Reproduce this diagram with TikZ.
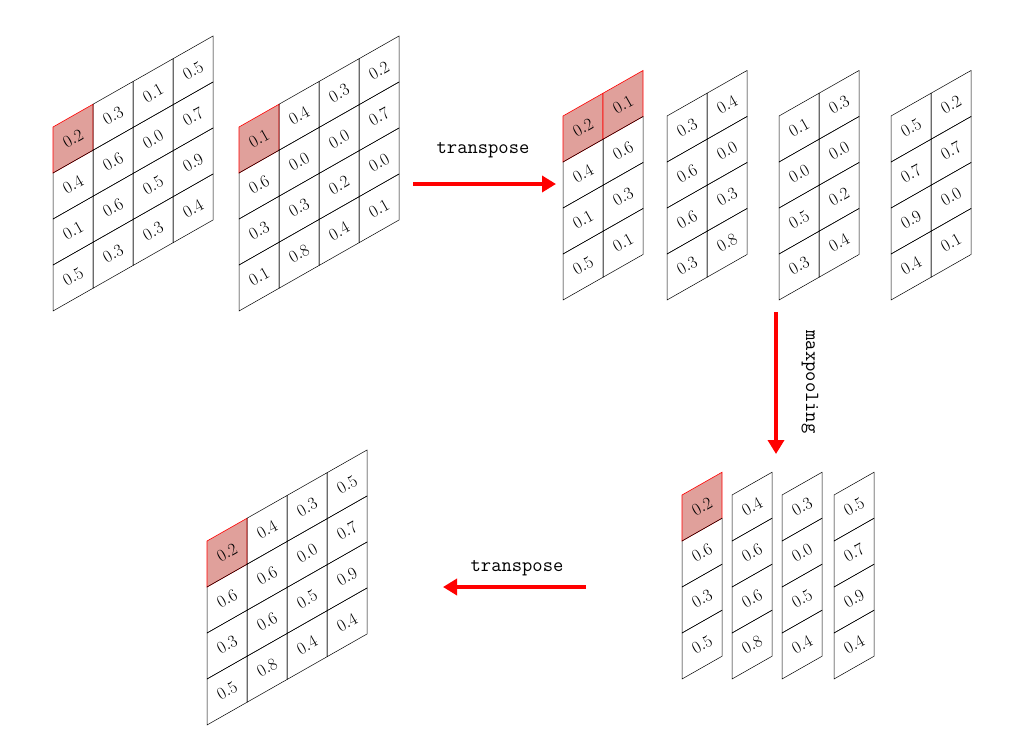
\documentclass[tikz,border=0pt]{standalone}
\usetikzlibrary{arrows.meta}
\definecolor{hifill}{HTML}{E0A09B}
\tikzset{
  cellbox/.style={draw=black, line width=0.5pt},
  hicell/.style={draw=red, fill=hifill, line width=0.6pt},
  celltext/.style={font=\fontsize{16}{16}\selectfont, rotate=29.6, inner sep=0pt},
  bigarrow/.style={draw=red, line width=4pt, -{Triangle[length=14pt,width=16pt]}},
  lbl/.style={font=\fontsize{20}{20}\selectfont\ttfamily}
}
% #1 x0, #2 ytop(left column), #3 rows, #4 list of highlighted "r-c"
\newcommand{\mygrid}[4]{%
  \foreach \row [count=\r from 0] in {#3} {
    \foreach \v [count=\c from 0] in \row {
      \pgfmathsetmacro{\xa}{#1+40*\c}
      \pgfmathsetmacro{\ya}{-(#2+46*\r-22.75*\c)}
      \foreach \h in {#4} {\ifx\h\empty\else
        \edef\tmp{\r-\c}\ifx\tmp\h\global\def\hisel{1}\fi\fi}
      \ifdefined\hisel
        \fill[hicell] (\xa,\ya) -- ++(40,22.75) -- ++(0,-46) -- ++(-40,-22.75) -- cycle;
        \global\let\hisel\undefined
      \else
        \draw[cellbox] (\xa,\ya) -- ++(40,22.75) -- ++(0,-46) -- ++(-40,-22.75) -- cycle;
      \fi
      \node[celltext] at (\xa+20,\ya-23+11.4) {$\v$};
    }
  }
}
\begin{document}
\begin{tikzpicture}[x=1pt,y=1pt]
\useasboundingbox (0,0) rectangle (1029,-745);
\mygrid{53}{127}{{0.2,0.3,0.1,0.5},{0.4,0.6,0.0,0.7},{0.1,0.6,0.5,0.9},{0.5,0.3,0.3,0.4}}{0-0}
\mygrid{239}{127}{{0.1,0.4,0.3,0.2},{0.6,0.0,0.0,0.7},{0.3,0.3,0.2,0.0},{0.1,0.8,0.4,0.1}}{0-0}
\mygrid{563}{116}{{0.2,0.1},{0.4,0.6},{0.1,0.3},{0.5,0.1}}{0-0,0-1}
\mygrid{667}{116}{{0.3,0.4},{0.6,0.0},{0.6,0.3},{0.3,0.8}}{}
\mygrid{779}{116}{{0.1,0.3},{0.0,0.0},{0.5,0.2},{0.3,0.4}}{}
\mygrid{891}{116}{{0.5,0.2},{0.7,0.7},{0.9,0.0},{0.4,0.1}}{}
\mygrid{682}{495}{{0.2},{0.6},{0.3},{0.5}}{0-0}
\mygrid{732}{495}{{0.4},{0.6},{0.6},{0.8}}{}
\mygrid{782}{495}{{0.3},{0.0},{0.5},{0.4}}{}
\mygrid{834}{495}{{0.5},{0.7},{0.9},{0.4}}{}
\mygrid{207}{541}{{0.2,0.4,0.3,0.5},{0.6,0.6,0.0,0.7},{0.3,0.6,0.5,0.9},{0.5,0.8,0.4,0.4}}{0-0}
\coordinate (a1s) at (413,-184); \coordinate (a1e) at (556,-184);
\coordinate (a2s) at (776,-312); \coordinate (a2e) at (776,-454);
\coordinate (a3s) at (586,-587); \coordinate (a3e) at (443,-587);
\draw[bigarrow] (a1s) -- (a1e);
\draw[bigarrow] (a2s) -- (a2e);
\draw[bigarrow] (a3s) -- (a3e);
\node[lbl] (t1) at (483,-150) {transpose};
\node[lbl, rotate=-90] (t2) at (810,-382) {maxpooling};
\node[lbl] (t3) at (517,-568) {transpose};
\end{tikzpicture}
\end{document}
